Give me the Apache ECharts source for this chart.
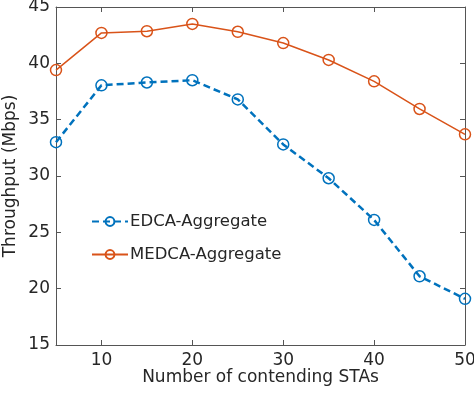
<!DOCTYPE html>
<html>
<head>
<meta charset="utf-8">
<script src="https://cdn.jsdelivr.net/npm/echarts@6/dist/echarts.min.js"></script>
<style>
  html, body { margin: 0; padding: 0; background: #fff; }
  #chart { width: 474px; height: 396px; }
</style>
</head>
<body>
<div id="chart"></div>
<script>
// number of contending STAs
const stas = [5, 10, 15, 20, 25, 30, 35, 40, 45, 50];
const edca = [33.0, 38.05, 38.3, 38.5, 36.8, 32.8, 29.8, 26.1, 21.1, 19.1];
const medca = [39.4, 42.7, 42.85, 43.5, 42.8, 41.8, 40.3, 38.4, 35.95, 33.7];
const xTicks = [10, 20, 30, 40, 50];

const axisColor = "#555";
const textColor = "#262626";
const font = "DejaVu Sans, sans-serif";
const blue = "#0072BD";
const orange = "#D95319";

const pairs = (ys) => stas.map((x, i) => [x, ys[i]]);

let myChart = echarts.init(document.getElementById("chart"));
myChart.setOption({
  animation: false,
  grid: { left: 56, right: 9, top: 7, bottom: 51, outerBoundsMode: "none", containLabel: false },
  legend: {
    orient: "vertical",
    left: 86,
    top: 208,
    itemGap: 16,
    itemWidth: 36,
    itemHeight: 11,
    textStyle: { fontFamily: font, fontSize: 16.5, color: textColor, padding: [0, 0, 0, -3] },
    data: ["EDCA-Aggregate", "MEDCA-Aggregate"]
  },
  xAxis: [
    {
      type: "value",
      min: 5,
      max: 50,
      name: "Number of contending STAs",
      nameLocation: "middle",
      nameGap: 24,
      nameMoveOverlap: false,
      nameTextStyle: { fontFamily: font, fontSize: 17, color: textColor },
      axisLine: { lineStyle: { color: axisColor, width: 1 } },
      axisTick: { inside: true, length: 5, customValues: xTicks, lineStyle: { color: axisColor } },
      axisLabel: { customValues: xTicks, fontFamily: font, fontSize: 17, color: textColor, margin: 7 },
      splitLine: { show: false }
    },
    {
      type: "value",
      position: "top",
      min: 5,
      max: 50,
      axisLine: { show: true, lineStyle: { color: axisColor, width: 1 } },
      axisTick: { inside: true, length: 5, customValues: xTicks.slice(0, 4), lineStyle: { color: axisColor } },
      axisLabel: { show: false },
      splitLine: { show: false }
    }
  ],
  yAxis: [
    {
      type: "value",
      min: 15,
      max: 45,
      interval: 5,
      name: "Throughput (Mbps)",
      nameLocation: "middle",
      nameGap: 37,
      nameMoveOverlap: false,
      nameTextStyle: { fontFamily: font, fontSize: 17, color: textColor },
      axisLine: { show: true, lineStyle: { color: axisColor, width: 1 } },
      axisTick: { show: true, inside: true, length: 5, lineStyle: { color: axisColor } },
      axisLabel: { fontFamily: font, fontSize: 17, color: textColor, margin: 6 },
      splitLine: { show: false }
    },
    {
      type: "value",
      position: "right",
      min: 15,
      max: 45,
      interval: 5,
      axisLine: { show: true, lineStyle: { color: axisColor, width: 1 } },
      axisTick: { show: true, inside: true, length: 5, lineStyle: { color: axisColor } },
      axisLabel: { show: false },
      splitLine: { show: false }
    }
  ],
  series: [
    {
      name: "EDCA-Aggregate",
      type: "line",
      data: pairs(edca),
      symbol: "circle",
      symbolSize: 11,
      color: blue,
      lineStyle: { color: blue, width: 2.5, type: [7, 4] },
      itemStyle: { color: "rgba(255,255,255,0)", borderColor: blue, borderWidth: 1.5 }
    },
    {
      name: "MEDCA-Aggregate",
      type: "line",
      data: pairs(medca),
      symbol: "circle",
      symbolSize: 11,
      color: orange,
      lineStyle: { color: orange, width: 1.5 },
      itemStyle: { color: "rgba(255,255,255,0)", borderColor: orange, borderWidth: 1.5 }
    }
  ]
});
</script>
</body>
</html>
